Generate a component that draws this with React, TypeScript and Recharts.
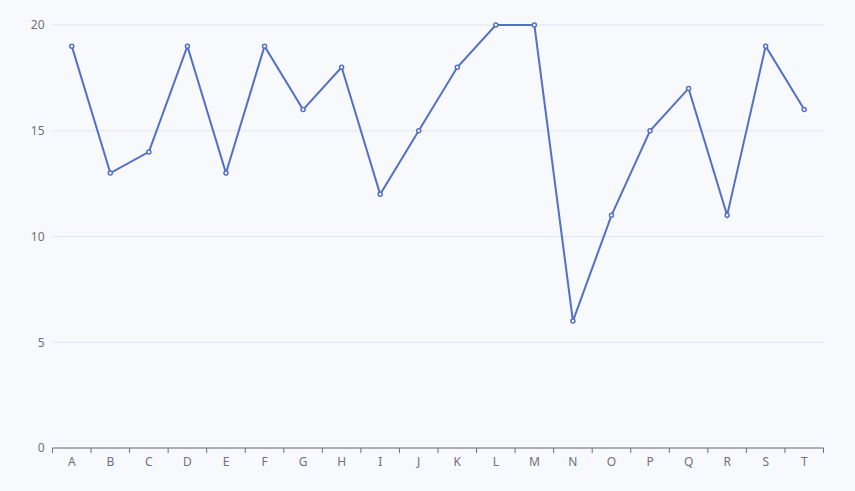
import React from 'react';
import { LineChart, Line, XAxis, YAxis, CartesianGrid } from 'recharts';

const categories = ['A', 'B', 'C', 'D', 'E', 'F', 'G', 'H', 'I', 'J', 'K', 'L', 'M', 'N', 'O', 'P', 'Q', 'R', 'S', 'T'];
const values = [19, 13, 14, 19, 13, 19, 16, 18, 12, 15, 18, 20, 20, 6, 11, 15, 17, 11, 19, 16];
const yTicks = [0, 5, 10, 15, 20];

const data = categories.map((name, i) => ({ name, value: values[i] }));

const WIDTH = 855;
const HEIGHT = 491;
const PLOT_LEFT = 52.5;
const PLOT_RIGHT = 823.5;
const BAND = (PLOT_RIGHT - PLOT_LEFT) / categories.length;
const AXIS_COLOR = '#6e7079';

const CategoryTick = (props: any) => {
  const { x, y, payload, index } = props;
  const left = x - BAND / 2;
  const right = x + BAND / 2;
  return (
    <g>
      <line x1={left} y1={y - 8} x2={left} y2={y - 3} stroke={AXIS_COLOR} strokeWidth={1} />
      {index === categories.length - 1 && (
        <line x1={right} y1={y - 8} x2={right} y2={y - 3} stroke={AXIS_COLOR} strokeWidth={1} />
      )}
      <text x={x} y={y + 10} textAnchor="middle" fill={AXIS_COLOR} fontSize={12}>
        {payload.value}
      </text>
    </g>
  );
};

const App: React.FC = () => {
  return (
    <div
      style={{
        position: 'fixed',
        top: 0,
        left: 0,
        width: WIDTH,
        height: HEIGHT,
        background: '#f8f9fd',
        fontFamily: '"Noto Sans", sans-serif',
      }}
    >
      <LineChart
        width={WIDTH}
        height={HEIGHT}
        data={data}
        margin={{ top: 25, right: WIDTH - PLOT_RIGHT, bottom: 13, left: 12.5 }}
      >
        <CartesianGrid horizontal vertical={false} stroke="#e0e6f1" />
        <XAxis
          dataKey="name"
          axisLine={{ stroke: AXIS_COLOR }}
          tickLine={false}
          tick={<CategoryTick />}
          interval={0}
          height={30}
          padding={{ left: BAND / 2, right: BAND / 2 }}
        />
        <YAxis
          domain={[0, 20]}
          ticks={yTicks}
          width={40}
          axisLine={false}
          tickLine={false}
          tick={{ fill: AXIS_COLOR, fontSize: 12 }}
        />
        <Line
          type="linear"
          dataKey="value"
          stroke="#5470c6"
          strokeWidth={2}
          dot={{ r: 2, fill: '#ffffff', stroke: '#5470c6', strokeWidth: 1.5 }}
          activeDot={false}
          isAnimationActive={false}
        />
      </LineChart>
    </div>
  );
};

export default App;
